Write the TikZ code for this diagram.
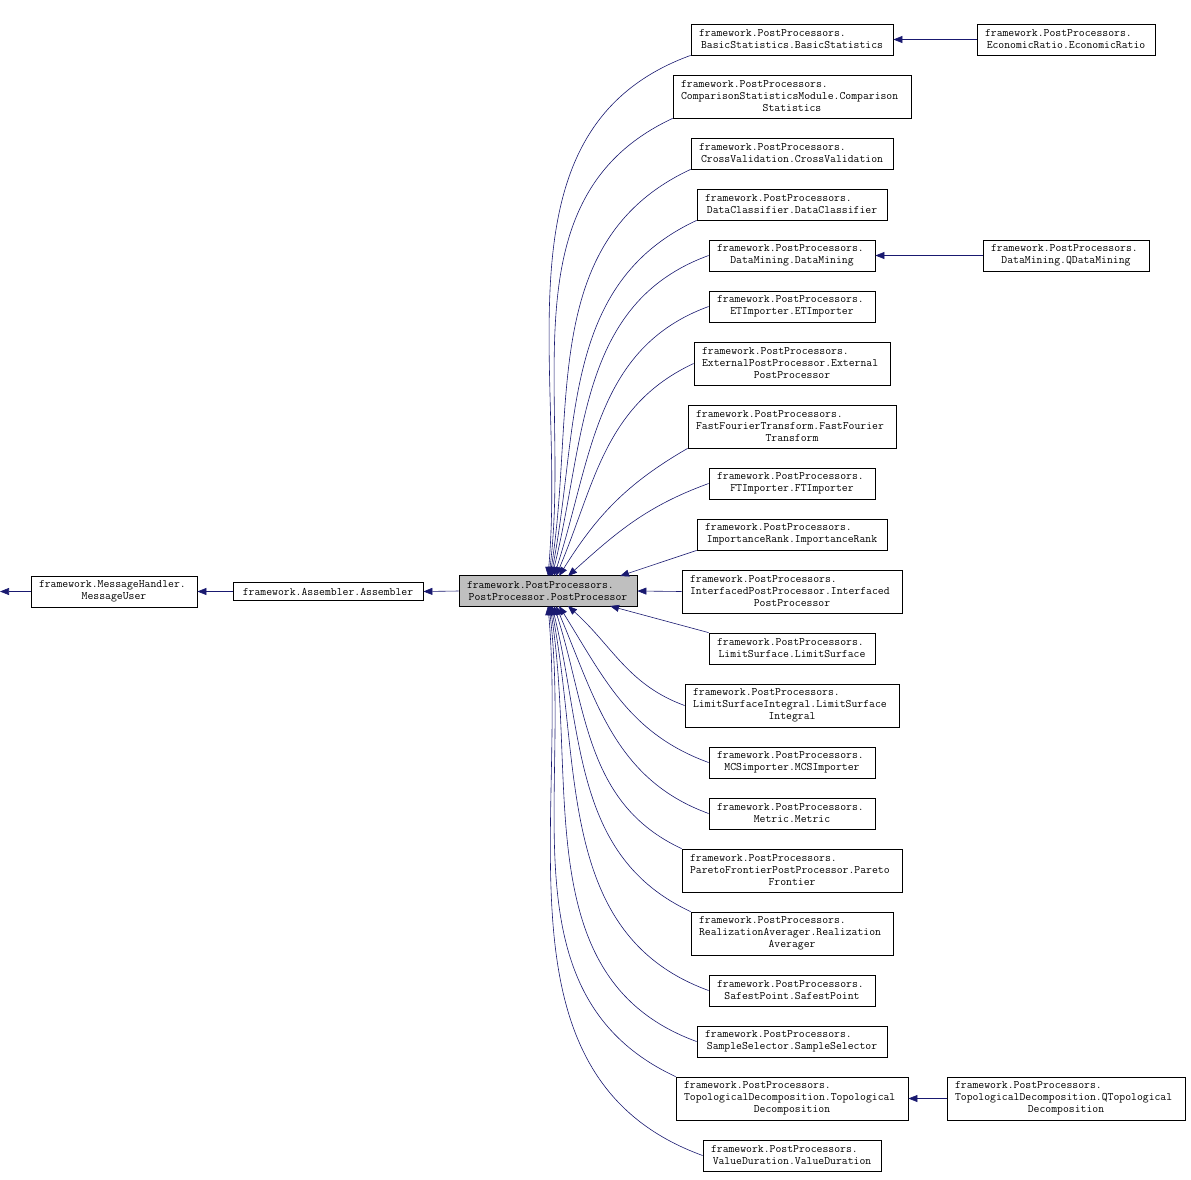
\documentclass[tikz,border=0pt]{standalone}
\usepackage{fontspec}
\usetikzlibrary{arrows.meta}
\definecolor{navy}{RGB}{25,25,112}
\newcommand\fl[1]{\leavevmode\hbox to\hsize{#1\hss}}
\tikzset{
 box/.style={draw=black,line width=0.8pt,inner xsep=8pt,inner ysep=0pt,align=center,font=\ttfamily\fontsize{11.4}{12}\selectfont,fill=white},
 edge/.style={draw=navy,line width=0.6pt,-{Triangle[length=9pt,width=7pt]}}
}
\newcommand\bx[7]{\node[box,minimum width=#4pt,text width=#6pt,minimum height=#5pt] (#1) at (#2pt,-#3pt) {#7};}
\begin{document}
\begin{tikzpicture}[x=1pt,y=1pt]
\useasboundingbox (0,0) rectangle (1191,-1179);
\node[box,fill=black!25,minimum width=178pt,text width=162pt,minimum height=31pt] (pp) at (548pt,-591pt) {\fl{framework.PostProcessors.}\\PostProcessor.PostProcessor};
\bx{as}{328}{591.5}{190}{18}{174}{framework.Assembler.Assembler}
\bx{mu}{114}{591.5}{166}{31}{150}{\fl{framework.MessageHandler.}\\MessageUser}
\coordinate (lft) at (0,-591.5);
\draw[edge] (pp.west) -- (as.east);
\draw[edge] (as.west) -- (mu.east);
\draw[edge] (mu.west) -- (lft);

\bx{n1}{792}{39.5}{202}{31}{186}{\fl{framework.PostProcessors.}\\BasicStatistics.BasicStatistics}
\bx{e1}{1066}{39.5}{178}{31}{162}{\fl{framework.PostProcessors.}\\EconomicRatio.EconomicRatio}
\bx{n2}{792}{96.5}{238}{43}{222}{\fl{framework.PostProcessors.}\\\fl{ComparisonStatisticsModule.Comparison}\\Statistics}
\bx{n3}{792}{153.5}{202}{31}{186}{\fl{framework.PostProcessors.}\\CrossValidation.CrossValidation}
\bx{n4}{792}{204.5}{190}{31}{174}{\fl{framework.PostProcessors.}\\DataClassifier.DataClassifier}
\bx{n5}{792}{255.5}{166}{31}{150}{\fl{framework.PostProcessors.}\\DataMining.DataMining}
\bx{e5}{1066}{255.5}{166}{31}{150}{\fl{framework.PostProcessors.}\\DataMining.QDataMining}
\bx{n6}{792}{306.5}{166}{31}{150}{\fl{framework.PostProcessors.}\\ETImporter.ETImporter}
\bx{n7}{792}{363.5}{196}{43}{180}{\fl{framework.PostProcessors.}\\\fl{ExternalPostProcessor.External}\\PostProcessor}
\bx{n8}{792}{426.5}{208}{43}{192}{\fl{framework.PostProcessors.}\\\fl{FastFourierTransform.FastFourier}\\Transform}
\bx{n9}{792}{483.5}{166}{31}{150}{\fl{framework.PostProcessors.}\\FTImporter.FTImporter}
\bx{n10}{792}{534.5}{190}{31}{174}{\fl{framework.PostProcessors.}\\ImportanceRank.ImportanceRank}
\bx{n11}{792}{591.5}{220}{43}{204}{\fl{framework.PostProcessors.}\\\fl{InterfacedPostProcessor.Interfaced}\\PostProcessor}
\bx{n12}{792}{648.5}{166}{31}{150}{\fl{framework.PostProcessors.}\\LimitSurface.LimitSurface}
\bx{n13}{792}{705.5}{214}{43}{198}{\fl{framework.PostProcessors.}\\\fl{LimitSurfaceIntegral.LimitSurface}\\Integral}
\bx{n14}{792}{762.5}{166}{31}{150}{\fl{framework.PostProcessors.}\\MCSimporter.MCSImporter}
\bx{n15}{792}{813.5}{166}{31}{150}{\fl{framework.PostProcessors.}\\Metric.Metric}
\bx{n16}{792}{870.5}{220}{43}{204}{\fl{framework.PostProcessors.}\\\fl{ParetoFrontierPostProcessor.Pareto}\\Frontier}
\bx{n17}{792}{933.5}{202}{43}{186}{\fl{framework.PostProcessors.}\\\fl{RealizationAverager.Realization}\\Averager}
\bx{n18}{792}{990.5}{166}{31}{150}{\fl{framework.PostProcessors.}\\SafestPoint.SafestPoint}
\bx{n19}{792}{1041.5}{190}{31}{174}{\fl{framework.PostProcessors.}\\SampleSelector.SampleSelector}
\bx{n20}{792}{1098.5}{232}{43}{216}{\fl{framework.PostProcessors.}\\\fl{TopologicalDecomposition.Topological}\\Decomposition}
\bx{e20}{1066}{1098.5}{238}{43}{222}{\fl{framework.PostProcessors.}\\\fl{TopologicalDecomposition.QTopological}\\Decomposition}
\bx{n21}{792}{1155.5}{178}{31}{162}{\fl{framework.PostProcessors.}\\ValueDuration.ValueDuration}

\draw[edge] (e1.west) -- (n1.east);
\draw[edge] (e5.west) -- (n5.east);
\draw[edge] (e20.west) -- (n20.east);

\draw[edge] (n1.south west) to[out=200,in=85] (548,-576);
\draw[edge] (n2.south west) to[out=205,in=83] (549,-576);
\draw[edge] (n3.south west) to[out=205,in=81] (550,-576);
\draw[edge] (n4.south west) to[out=205,in=79] (551,-576);
\draw[edge] (n5.west) to[out=200,in=76] (552,-576);
\draw[edge] (n6.west) to[out=200,in=72] (554,-576);
\draw[edge] (n7.west) to[out=205,in=67] (556,-576);
\draw[edge] (n8.south west) to[out=210,in=58] (559,-576);
\draw[edge] (n9.west) to[out=200,in=42] (568,-576);
\draw[edge] (n10.south west) -- (620,-576);
\draw[edge] (n11.west) -- (pp.east);
\draw[edge] (n12.north west) -- (610,-606);
\draw[edge] (n13.west) to[out=160,in=-42] (568,-606);
\draw[edge] (n14.west) to[out=160,in=-58] (559,-606);
\draw[edge] (n15.west) to[out=160,in=-67] (556,-606);
\draw[edge] (n16.north west) to[out=155,in=-72] (554,-606);
\draw[edge] (n17.north west) to[out=155,in=-76] (552,-606);
\draw[edge] (n18.west) to[out=160,in=-79] (551,-606);
\draw[edge] (n19.west) to[out=160,in=-81] (550,-606);
\draw[edge] (n20.north west) to[out=155,in=-83] (549,-606);
\draw[edge] (n21.west) to[out=160,in=-85] (548,-606);
\end{tikzpicture}
\end{document}
